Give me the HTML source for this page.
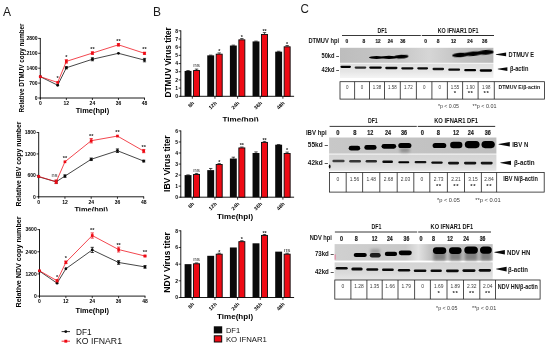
<!DOCTYPE html>
<html lang="en"><head><meta charset="utf-8"><title>Figure</title>
<style>html,body{margin:0;padding:0;background:#fff;}body{width:550px;height:348px;overflow:hidden;}svg{display:block;font-family:"Liberation Sans", sans-serif;filter:blur(0.3px);}</style>
</head><body>
<svg width="550" height="348" viewBox="0 0 550 348">
<defs>
<filter id="b1" x="-20%" y="-80%" width="140%" height="260%"><feGaussianBlur stdDeviation="0.75"/></filter>
<filter id="b4" x="-20%" y="-100%" width="140%" height="300%"><feGaussianBlur stdDeviation="0.7 0.45"/></filter>
<filter id="b2" x="-20%" y="-80%" width="140%" height="260%"><feGaussianBlur stdDeviation="0.6"/></filter>
<filter id="b3" x="-20%" y="-80%" width="140%" height="260%"><feGaussianBlur stdDeviation="1.4"/></filter>
<clipPath id="clipA2"><rect x="0" y="0" width="300" height="211.3"/></clipPath>
<clipPath id="clipB1"><rect x="0" y="0" width="300" height="121.5"/></clipPath>
<linearGradient id="gb1" x1="0" x2="1" y1="0" y2="0"><stop offset="0" stop-color="#bdbdbd"/><stop offset="0.4" stop-color="#c8c8c8"/><stop offset="0.58" stop-color="#d6d6d6"/><stop offset="0.75" stop-color="#c6c6c6"/><stop offset="1" stop-color="#b8b8b8"/></linearGradient>
<linearGradient id="ga1" x1="0" x2="0" y1="0" y2="1"><stop offset="0" stop-color="#dedede"/><stop offset="0.55" stop-color="#e6e6e6"/><stop offset="1" stop-color="#f4f4f4"/></linearGradient>
<linearGradient id="gb2" x1="0" x2="1" y1="0" y2="0"><stop offset="0" stop-color="#c8c8c8"/><stop offset="1" stop-color="#bebebe"/></linearGradient>
<linearGradient id="ga2" x1="0" x2="0" y1="0" y2="1"><stop offset="0" stop-color="#d4d4d4"/><stop offset="0.6" stop-color="#dadada"/><stop offset="1" stop-color="#e6e6e6"/></linearGradient>
<linearGradient id="gb3" x1="0" x2="1" y1="0" y2="0"><stop offset="0" stop-color="#d0d0d0"/><stop offset="0.45" stop-color="#c8c8c8"/><stop offset="0.53" stop-color="#e2e2e2"/><stop offset="0.6" stop-color="#c4c4c4"/><stop offset="1" stop-color="#bdbdbd"/></linearGradient>
</defs>
<rect width="550" height="348" fill="#fff"/>
<text x="2.90" y="15.50" font-size="12" font-weight="normal" text-anchor="start" fill="#1a1a1a" >A</text>
<text x="153.00" y="15.60" font-size="12" font-weight="normal" text-anchor="start" fill="#1a1a1a" textLength="8.00" lengthAdjust="spacingAndGlyphs" >B</text>
<text x="300.40" y="13.40" font-size="13.2" font-weight="normal" text-anchor="start" fill="#1a1a1a" textLength="8.40" lengthAdjust="spacingAndGlyphs" >C</text>
<line x1="40.30" y1="38.00" x2="40.30" y2="98.40" stroke="#000" stroke-width="0.9" />
<line x1="39.90" y1="98.00" x2="144.90" y2="98.00" stroke="#000" stroke-width="0.9" />
<line x1="38.20" y1="98.00" x2="40.30" y2="98.00" stroke="#000" stroke-width="0.8" />
<text x="37.50" y="99.75" font-size="5.0" font-weight="bold" text-anchor="end" fill="#000" >0</text>
<line x1="38.20" y1="83.10" x2="40.30" y2="83.10" stroke="#000" stroke-width="0.8" />
<text x="37.50" y="84.85" font-size="5.0" font-weight="bold" text-anchor="end" fill="#000" >700</text>
<line x1="38.20" y1="68.20" x2="40.30" y2="68.20" stroke="#000" stroke-width="0.8" />
<text x="37.50" y="69.95" font-size="5.0" font-weight="bold" text-anchor="end" fill="#000" >1400</text>
<line x1="38.20" y1="53.30" x2="40.30" y2="53.30" stroke="#000" stroke-width="0.8" />
<text x="37.50" y="55.05" font-size="5.0" font-weight="bold" text-anchor="end" fill="#000" >2100</text>
<line x1="38.20" y1="38.40" x2="40.30" y2="38.40" stroke="#000" stroke-width="0.8" />
<text x="37.50" y="40.15" font-size="5.0" font-weight="bold" text-anchor="end" fill="#000" >2800</text>
<line x1="40.30" y1="98.00" x2="40.30" y2="100.00" stroke="#000" stroke-width="0.8" />
<text x="40.30" y="104.90" font-size="5.0" font-weight="bold" text-anchor="middle" fill="#000" >0</text>
<line x1="66.35" y1="98.00" x2="66.35" y2="100.00" stroke="#000" stroke-width="0.8" />
<text x="66.35" y="104.90" font-size="5.0" font-weight="bold" text-anchor="middle" fill="#000" >12</text>
<line x1="92.40" y1="98.00" x2="92.40" y2="100.00" stroke="#000" stroke-width="0.8" />
<text x="92.40" y="104.90" font-size="5.0" font-weight="bold" text-anchor="middle" fill="#000" >24</text>
<line x1="118.45" y1="98.00" x2="118.45" y2="100.00" stroke="#000" stroke-width="0.8" />
<text x="118.45" y="104.90" font-size="5.0" font-weight="bold" text-anchor="middle" fill="#000" >36</text>
<line x1="144.50" y1="98.00" x2="144.50" y2="100.00" stroke="#000" stroke-width="0.8" />
<text x="144.50" y="104.90" font-size="5.0" font-weight="bold" text-anchor="middle" fill="#000" >48</text>
<polyline points="40.30,76.71 57.67,85.23 66.35,67.77 92.40,59.26 118.45,53.30 144.50,60.11" fill="none" stroke="#0a0a0a" stroke-width="0.75"/>
<circle cx="40.30" cy="76.71" r="1.4" fill="#0a0a0a"/>
<circle cx="57.67" cy="85.23" r="1.4" fill="#0a0a0a"/>
<line x1="66.35" y1="66.71" x2="66.35" y2="68.84" stroke="#0a0a0a" stroke-width="0.8" />
<line x1="64.75" y1="66.71" x2="67.95" y2="66.71" stroke="#0a0a0a" stroke-width="0.8" />
<line x1="64.75" y1="68.84" x2="67.95" y2="68.84" stroke="#0a0a0a" stroke-width="0.8" />
<circle cx="66.35" cy="67.77" r="1.4" fill="#0a0a0a"/>
<line x1="92.40" y1="57.77" x2="92.40" y2="60.75" stroke="#0a0a0a" stroke-width="0.8" />
<line x1="90.80" y1="57.77" x2="94.00" y2="57.77" stroke="#0a0a0a" stroke-width="0.8" />
<line x1="90.80" y1="60.75" x2="94.00" y2="60.75" stroke="#0a0a0a" stroke-width="0.8" />
<circle cx="92.40" cy="59.26" r="1.4" fill="#0a0a0a"/>
<circle cx="118.45" cy="53.30" r="1.4" fill="#0a0a0a"/>
<line x1="144.50" y1="58.41" x2="144.50" y2="61.81" stroke="#0a0a0a" stroke-width="0.8" />
<line x1="142.90" y1="58.41" x2="146.10" y2="58.41" stroke="#0a0a0a" stroke-width="0.8" />
<line x1="142.90" y1="61.81" x2="146.10" y2="61.81" stroke="#0a0a0a" stroke-width="0.8" />
<circle cx="144.50" cy="60.11" r="1.4" fill="#0a0a0a"/>
<polyline points="40.30,76.71 57.67,82.46 66.35,61.39 92.40,53.09 118.45,44.79 144.50,53.30" fill="none" stroke="#ee0a14" stroke-width="0.75"/>
<rect x="38.95" y="75.36" width="2.7" height="2.7" fill="#ee0a14"/>
<rect x="56.32" y="81.11" width="2.7" height="2.7" fill="#ee0a14"/>
<line x1="66.35" y1="59.69" x2="66.35" y2="63.09" stroke="#ee0a14" stroke-width="0.8" />
<line x1="64.75" y1="59.69" x2="67.95" y2="59.69" stroke="#ee0a14" stroke-width="0.8" />
<line x1="64.75" y1="63.09" x2="67.95" y2="63.09" stroke="#ee0a14" stroke-width="0.8" />
<rect x="65.00" y="60.04" width="2.7" height="2.7" fill="#ee0a14"/>
<line x1="92.40" y1="51.81" x2="92.40" y2="54.36" stroke="#ee0a14" stroke-width="0.8" />
<line x1="90.80" y1="51.81" x2="94.00" y2="51.81" stroke="#ee0a14" stroke-width="0.8" />
<line x1="90.80" y1="54.36" x2="94.00" y2="54.36" stroke="#ee0a14" stroke-width="0.8" />
<rect x="91.05" y="51.74" width="2.7" height="2.7" fill="#ee0a14"/>
<line x1="118.45" y1="43.51" x2="118.45" y2="46.06" stroke="#ee0a14" stroke-width="0.8" />
<line x1="116.85" y1="43.51" x2="120.05" y2="43.51" stroke="#ee0a14" stroke-width="0.8" />
<line x1="116.85" y1="46.06" x2="120.05" y2="46.06" stroke="#ee0a14" stroke-width="0.8" />
<rect x="117.10" y="43.44" width="2.7" height="2.7" fill="#ee0a14"/>
<line x1="144.50" y1="52.24" x2="144.50" y2="54.36" stroke="#ee0a14" stroke-width="0.8" />
<line x1="142.90" y1="52.24" x2="146.10" y2="52.24" stroke="#ee0a14" stroke-width="0.8" />
<line x1="142.90" y1="54.36" x2="146.10" y2="54.36" stroke="#ee0a14" stroke-width="0.8" />
<rect x="143.15" y="51.95" width="2.7" height="2.7" fill="#ee0a14"/>
<text x="57.67" y="80.46" font-size="5.6" font-weight="bold" text-anchor="middle" fill="#222" >*</text>
<text x="66.35" y="59.14" font-size="5.6" font-weight="bold" text-anchor="middle" fill="#222" >*</text>
<text x="92.40" y="51.09" font-size="5.6" font-weight="bold" text-anchor="middle" fill="#222" >**</text>
<text x="118.45" y="42.79" font-size="5.6" font-weight="bold" text-anchor="middle" fill="#222" >**</text>
<text x="144.50" y="51.30" font-size="5.6" font-weight="bold" text-anchor="middle" fill="#222" >**</text>
<text transform="translate(23.90,68.00) rotate(-90)" font-size="7.6" font-weight="bold" text-anchor="middle" textLength="89" lengthAdjust="spacingAndGlyphs">Relative DTMUV copy number</text>
<text x="92.40" y="113.00" font-size="7.6" font-weight="bold" text-anchor="middle" fill="#000" textLength="33.50" lengthAdjust="spacingAndGlyphs" >Time(hpi)</text>
<line x1="38.70" y1="132.10" x2="38.70" y2="197.20" stroke="#000" stroke-width="0.9" />
<line x1="38.30" y1="196.80" x2="144.10" y2="196.80" stroke="#000" stroke-width="0.9" />
<line x1="36.60" y1="196.80" x2="38.70" y2="196.80" stroke="#000" stroke-width="0.8" />
<text x="35.90" y="198.55" font-size="5.0" font-weight="bold" text-anchor="end" fill="#000" >0</text>
<line x1="36.60" y1="175.37" x2="38.70" y2="175.37" stroke="#000" stroke-width="0.8" />
<text x="35.90" y="177.12" font-size="5.0" font-weight="bold" text-anchor="end" fill="#000" >600</text>
<line x1="36.60" y1="153.93" x2="38.70" y2="153.93" stroke="#000" stroke-width="0.8" />
<text x="35.90" y="155.68" font-size="5.0" font-weight="bold" text-anchor="end" fill="#000" >1200</text>
<line x1="36.60" y1="132.50" x2="38.70" y2="132.50" stroke="#000" stroke-width="0.8" />
<text x="35.90" y="134.25" font-size="5.0" font-weight="bold" text-anchor="end" fill="#000" >1800</text>
<line x1="38.70" y1="196.80" x2="38.70" y2="198.80" stroke="#000" stroke-width="0.8" />
<text x="38.70" y="203.70" font-size="5.0" font-weight="bold" text-anchor="middle" fill="#000" >0</text>
<line x1="64.95" y1="196.80" x2="64.95" y2="198.80" stroke="#000" stroke-width="0.8" />
<text x="64.95" y="203.70" font-size="5.0" font-weight="bold" text-anchor="middle" fill="#000" >12</text>
<line x1="91.20" y1="196.80" x2="91.20" y2="198.80" stroke="#000" stroke-width="0.8" />
<text x="91.20" y="203.70" font-size="5.0" font-weight="bold" text-anchor="middle" fill="#000" >24</text>
<line x1="117.45" y1="196.80" x2="117.45" y2="198.80" stroke="#000" stroke-width="0.8" />
<text x="117.45" y="203.70" font-size="5.0" font-weight="bold" text-anchor="middle" fill="#000" >36</text>
<line x1="143.70" y1="196.80" x2="143.70" y2="198.80" stroke="#000" stroke-width="0.8" />
<text x="143.70" y="203.70" font-size="5.0" font-weight="bold" text-anchor="middle" fill="#000" >48</text>
<polyline points="38.70,176.80 56.20,181.80 64.95,176.08 91.20,159.29 117.45,150.72 143.70,161.08" fill="none" stroke="#0a0a0a" stroke-width="0.75"/>
<circle cx="38.70" cy="176.80" r="1.4" fill="#0a0a0a"/>
<line x1="56.20" y1="180.37" x2="56.20" y2="183.23" stroke="#0a0a0a" stroke-width="0.8" />
<line x1="54.60" y1="180.37" x2="57.80" y2="180.37" stroke="#0a0a0a" stroke-width="0.8" />
<line x1="54.60" y1="183.23" x2="57.80" y2="183.23" stroke="#0a0a0a" stroke-width="0.8" />
<circle cx="56.20" cy="181.80" r="1.4" fill="#0a0a0a"/>
<line x1="64.95" y1="174.83" x2="64.95" y2="177.33" stroke="#0a0a0a" stroke-width="0.8" />
<line x1="63.35" y1="174.83" x2="66.55" y2="174.83" stroke="#0a0a0a" stroke-width="0.8" />
<line x1="63.35" y1="177.33" x2="66.55" y2="177.33" stroke="#0a0a0a" stroke-width="0.8" />
<circle cx="64.95" cy="176.08" r="1.4" fill="#0a0a0a"/>
<line x1="91.20" y1="158.04" x2="91.20" y2="160.54" stroke="#0a0a0a" stroke-width="0.8" />
<line x1="89.60" y1="158.04" x2="92.80" y2="158.04" stroke="#0a0a0a" stroke-width="0.8" />
<line x1="89.60" y1="160.54" x2="92.80" y2="160.54" stroke="#0a0a0a" stroke-width="0.8" />
<circle cx="91.20" cy="159.29" r="1.4" fill="#0a0a0a"/>
<line x1="117.45" y1="148.93" x2="117.45" y2="152.50" stroke="#0a0a0a" stroke-width="0.8" />
<line x1="115.85" y1="148.93" x2="119.05" y2="148.93" stroke="#0a0a0a" stroke-width="0.8" />
<line x1="115.85" y1="152.50" x2="119.05" y2="152.50" stroke="#0a0a0a" stroke-width="0.8" />
<circle cx="117.45" cy="150.72" r="1.4" fill="#0a0a0a"/>
<line x1="143.70" y1="160.18" x2="143.70" y2="161.97" stroke="#0a0a0a" stroke-width="0.8" />
<line x1="142.10" y1="160.18" x2="145.30" y2="160.18" stroke="#0a0a0a" stroke-width="0.8" />
<line x1="142.10" y1="161.97" x2="145.30" y2="161.97" stroke="#0a0a0a" stroke-width="0.8" />
<circle cx="143.70" cy="161.08" r="1.4" fill="#0a0a0a"/>
<polyline points="38.70,176.44 56.20,181.80 64.95,161.79 91.20,140.72 117.45,136.07 143.70,151.08" fill="none" stroke="#ee0a14" stroke-width="0.75"/>
<rect x="37.35" y="175.09" width="2.7" height="2.7" fill="#ee0a14"/>
<line x1="56.20" y1="180.01" x2="56.20" y2="183.58" stroke="#ee0a14" stroke-width="0.8" />
<line x1="54.60" y1="180.01" x2="57.80" y2="180.01" stroke="#ee0a14" stroke-width="0.8" />
<line x1="54.60" y1="183.58" x2="57.80" y2="183.58" stroke="#ee0a14" stroke-width="0.8" />
<rect x="54.85" y="180.45" width="2.7" height="2.7" fill="#ee0a14"/>
<rect x="63.60" y="160.44" width="2.7" height="2.7" fill="#ee0a14"/>
<line x1="91.20" y1="138.57" x2="91.20" y2="142.86" stroke="#ee0a14" stroke-width="0.8" />
<line x1="89.60" y1="138.57" x2="92.80" y2="138.57" stroke="#ee0a14" stroke-width="0.8" />
<line x1="89.60" y1="142.86" x2="92.80" y2="142.86" stroke="#ee0a14" stroke-width="0.8" />
<rect x="89.85" y="139.37" width="2.7" height="2.7" fill="#ee0a14"/>
<rect x="116.10" y="134.72" width="2.7" height="2.7" fill="#ee0a14"/>
<line x1="143.70" y1="149.47" x2="143.70" y2="152.68" stroke="#ee0a14" stroke-width="0.8" />
<line x1="142.10" y1="149.47" x2="145.30" y2="149.47" stroke="#ee0a14" stroke-width="0.8" />
<line x1="142.10" y1="152.68" x2="145.30" y2="152.68" stroke="#ee0a14" stroke-width="0.8" />
<rect x="142.35" y="149.73" width="2.7" height="2.7" fill="#ee0a14"/>
<text x="54.50" y="177.06" font-size="5.6" font-weight="normal" text-anchor="middle" fill="#2a2a2a" >ns</text>
<text x="64.95" y="159.79" font-size="5.6" font-weight="bold" text-anchor="middle" fill="#222" >**</text>
<text x="91.20" y="138.02" font-size="5.6" font-weight="bold" text-anchor="middle" fill="#222" >**</text>
<text x="117.45" y="134.07" font-size="5.6" font-weight="bold" text-anchor="middle" fill="#222" >**</text>
<text x="143.70" y="148.92" font-size="5.6" font-weight="bold" text-anchor="middle" fill="#222" >**</text>
<text transform="translate(21.20,164.00) rotate(-90)" font-size="7.6" font-weight="bold" text-anchor="middle" textLength="85" lengthAdjust="spacingAndGlyphs">Relative IBV copy number</text>
<g clip-path="url(#clipA2)">
<text x="91.20" y="211.90" font-size="7.6" font-weight="bold" text-anchor="middle" fill="#000" textLength="33.50" lengthAdjust="spacingAndGlyphs" >Time(hpi)</text>
</g>
<line x1="39.50" y1="229.20" x2="39.50" y2="296.50" stroke="#000" stroke-width="0.9" />
<line x1="39.10" y1="296.10" x2="145.40" y2="296.10" stroke="#000" stroke-width="0.9" />
<line x1="37.40" y1="296.10" x2="39.50" y2="296.10" stroke="#000" stroke-width="0.8" />
<text x="36.70" y="297.85" font-size="5.0" font-weight="bold" text-anchor="end" fill="#000" >0</text>
<line x1="37.40" y1="273.93" x2="39.50" y2="273.93" stroke="#000" stroke-width="0.8" />
<text x="36.70" y="275.68" font-size="5.0" font-weight="bold" text-anchor="end" fill="#000" >1200</text>
<line x1="37.40" y1="251.77" x2="39.50" y2="251.77" stroke="#000" stroke-width="0.8" />
<text x="36.70" y="253.52" font-size="5.0" font-weight="bold" text-anchor="end" fill="#000" >2400</text>
<line x1="37.40" y1="229.60" x2="39.50" y2="229.60" stroke="#000" stroke-width="0.8" />
<text x="36.70" y="231.35" font-size="5.0" font-weight="bold" text-anchor="end" fill="#000" >3600</text>
<line x1="39.50" y1="296.10" x2="39.50" y2="298.10" stroke="#000" stroke-width="0.8" />
<text x="39.50" y="303.00" font-size="5.0" font-weight="bold" text-anchor="middle" fill="#000" >0</text>
<line x1="65.88" y1="296.10" x2="65.88" y2="298.10" stroke="#000" stroke-width="0.8" />
<text x="65.88" y="303.00" font-size="5.0" font-weight="bold" text-anchor="middle" fill="#000" >12</text>
<line x1="92.25" y1="296.10" x2="92.25" y2="298.10" stroke="#000" stroke-width="0.8" />
<text x="92.25" y="303.00" font-size="5.0" font-weight="bold" text-anchor="middle" fill="#000" >24</text>
<line x1="118.62" y1="296.10" x2="118.62" y2="298.10" stroke="#000" stroke-width="0.8" />
<text x="118.62" y="303.00" font-size="5.0" font-weight="bold" text-anchor="middle" fill="#000" >36</text>
<line x1="145.00" y1="296.10" x2="145.00" y2="298.10" stroke="#000" stroke-width="0.8" />
<text x="145.00" y="303.00" font-size="5.0" font-weight="bold" text-anchor="middle" fill="#000" >48</text>
<polyline points="39.50,271.16 57.08,283.17 65.88,268.76 92.25,249.92 118.62,262.48 145.00,266.91" fill="none" stroke="#0a0a0a" stroke-width="0.75"/>
<circle cx="39.50" cy="271.16" r="1.4" fill="#0a0a0a"/>
<circle cx="57.08" cy="283.17" r="1.4" fill="#0a0a0a"/>
<circle cx="65.88" cy="268.76" r="1.4" fill="#0a0a0a"/>
<line x1="92.25" y1="247.33" x2="92.25" y2="252.51" stroke="#0a0a0a" stroke-width="0.8" />
<line x1="90.65" y1="247.33" x2="93.85" y2="247.33" stroke="#0a0a0a" stroke-width="0.8" />
<line x1="90.65" y1="252.51" x2="93.85" y2="252.51" stroke="#0a0a0a" stroke-width="0.8" />
<circle cx="92.25" cy="249.92" r="1.4" fill="#0a0a0a"/>
<line x1="118.62" y1="260.63" x2="118.62" y2="264.33" stroke="#0a0a0a" stroke-width="0.8" />
<line x1="117.03" y1="260.63" x2="120.22" y2="260.63" stroke="#0a0a0a" stroke-width="0.8" />
<line x1="117.03" y1="264.33" x2="120.22" y2="264.33" stroke="#0a0a0a" stroke-width="0.8" />
<circle cx="118.62" cy="262.48" r="1.4" fill="#0a0a0a"/>
<line x1="145.00" y1="265.62" x2="145.00" y2="268.21" stroke="#0a0a0a" stroke-width="0.8" />
<line x1="143.40" y1="265.62" x2="146.60" y2="265.62" stroke="#0a0a0a" stroke-width="0.8" />
<line x1="143.40" y1="268.21" x2="146.60" y2="268.21" stroke="#0a0a0a" stroke-width="0.8" />
<circle cx="145.00" cy="266.91" r="1.4" fill="#0a0a0a"/>
<polyline points="39.50,270.79 57.08,280.77 65.88,262.30 92.25,235.51 118.62,249.55 145.00,256.02" fill="none" stroke="#ee0a14" stroke-width="0.75"/>
<rect x="38.15" y="269.44" width="2.7" height="2.7" fill="#ee0a14"/>
<line x1="57.08" y1="279.66" x2="57.08" y2="281.88" stroke="#ee0a14" stroke-width="0.8" />
<line x1="55.48" y1="279.66" x2="58.68" y2="279.66" stroke="#ee0a14" stroke-width="0.8" />
<line x1="55.48" y1="281.88" x2="58.68" y2="281.88" stroke="#ee0a14" stroke-width="0.8" />
<rect x="55.73" y="279.42" width="2.7" height="2.7" fill="#ee0a14"/>
<line x1="65.88" y1="261.00" x2="65.88" y2="263.59" stroke="#ee0a14" stroke-width="0.8" />
<line x1="64.28" y1="261.00" x2="67.47" y2="261.00" stroke="#ee0a14" stroke-width="0.8" />
<line x1="64.28" y1="263.59" x2="67.47" y2="263.59" stroke="#ee0a14" stroke-width="0.8" />
<rect x="64.53" y="260.95" width="2.7" height="2.7" fill="#ee0a14"/>
<line x1="92.25" y1="232.93" x2="92.25" y2="238.10" stroke="#ee0a14" stroke-width="0.8" />
<line x1="90.65" y1="232.93" x2="93.85" y2="232.93" stroke="#ee0a14" stroke-width="0.8" />
<line x1="90.65" y1="238.10" x2="93.85" y2="238.10" stroke="#ee0a14" stroke-width="0.8" />
<rect x="90.90" y="234.16" width="2.7" height="2.7" fill="#ee0a14"/>
<line x1="118.62" y1="247.15" x2="118.62" y2="251.95" stroke="#ee0a14" stroke-width="0.8" />
<line x1="117.03" y1="247.15" x2="120.22" y2="247.15" stroke="#ee0a14" stroke-width="0.8" />
<line x1="117.03" y1="251.95" x2="120.22" y2="251.95" stroke="#ee0a14" stroke-width="0.8" />
<rect x="117.28" y="248.20" width="2.7" height="2.7" fill="#ee0a14"/>
<line x1="145.00" y1="255.28" x2="145.00" y2="256.75" stroke="#ee0a14" stroke-width="0.8" />
<line x1="143.40" y1="255.28" x2="146.60" y2="255.28" stroke="#ee0a14" stroke-width="0.8" />
<line x1="143.40" y1="256.75" x2="146.60" y2="256.75" stroke="#ee0a14" stroke-width="0.8" />
<rect x="143.65" y="254.67" width="2.7" height="2.7" fill="#ee0a14"/>
<text x="57.08" y="278.77" font-size="5.6" font-weight="bold" text-anchor="middle" fill="#222" >*</text>
<text x="65.88" y="260.30" font-size="5.6" font-weight="bold" text-anchor="middle" fill="#222" >*</text>
<text x="92.25" y="232.38" font-size="5.6" font-weight="bold" text-anchor="middle" fill="#222" >**</text>
<text x="118.62" y="246.60" font-size="5.6" font-weight="bold" text-anchor="middle" fill="#222" >**</text>
<text x="145.00" y="254.02" font-size="5.6" font-weight="bold" text-anchor="middle" fill="#222" >**</text>
<text transform="translate(21.20,262.00) rotate(-90)" font-size="7.6" font-weight="bold" text-anchor="middle" textLength="91" lengthAdjust="spacingAndGlyphs">Relative NDV copy number</text>
<text x="92.25" y="312.60" font-size="7.6" font-weight="bold" text-anchor="middle" fill="#000" textLength="33.50" lengthAdjust="spacingAndGlyphs" >Time(hpi)</text>
<line x1="61.60" y1="331.60" x2="70.00" y2="331.60" stroke="#0a0a0a" stroke-width="0.85" />
<circle cx="65.8" cy="331.6" r="1.45" fill="#0a0a0a"/>
<text x="76.00" y="334.70" font-size="8.6" font-weight="normal" text-anchor="start" fill="#111" textLength="15.60" lengthAdjust="spacingAndGlyphs" >DF1</text>
<line x1="61.60" y1="341.20" x2="70.00" y2="341.20" stroke="#ee0a14" stroke-width="0.85" />
<rect x="64.35" y="339.75" width="2.9" height="2.9" fill="#ee0a14"/>
<text x="76.00" y="344.30" font-size="8.6" font-weight="normal" text-anchor="start" fill="#111" textLength="46.00" lengthAdjust="spacingAndGlyphs" >KO IFNAR1</text>
<line x1="180.80" y1="30.40" x2="180.80" y2="96.70" stroke="#000" stroke-width="0.9" />
<line x1="180.40" y1="96.30" x2="294.10" y2="96.30" stroke="#000" stroke-width="0.9" />
<line x1="178.70" y1="96.30" x2="180.80" y2="96.30" stroke="#000" stroke-width="0.8" />
<text x="178.00" y="98.05" font-size="5.0" font-weight="bold" text-anchor="end" fill="#000" >0</text>
<line x1="178.70" y1="88.11" x2="180.80" y2="88.11" stroke="#000" stroke-width="0.8" />
<text x="178.00" y="89.86" font-size="5.0" font-weight="bold" text-anchor="end" fill="#000" >1</text>
<line x1="178.70" y1="79.92" x2="180.80" y2="79.92" stroke="#000" stroke-width="0.8" />
<text x="178.00" y="81.67" font-size="5.0" font-weight="bold" text-anchor="end" fill="#000" >2</text>
<line x1="178.70" y1="71.74" x2="180.80" y2="71.74" stroke="#000" stroke-width="0.8" />
<text x="178.00" y="73.49" font-size="5.0" font-weight="bold" text-anchor="end" fill="#000" >3</text>
<line x1="178.70" y1="63.55" x2="180.80" y2="63.55" stroke="#000" stroke-width="0.8" />
<text x="178.00" y="65.30" font-size="5.0" font-weight="bold" text-anchor="end" fill="#000" >4</text>
<line x1="178.70" y1="55.36" x2="180.80" y2="55.36" stroke="#000" stroke-width="0.8" />
<text x="178.00" y="57.11" font-size="5.0" font-weight="bold" text-anchor="end" fill="#000" >5</text>
<line x1="178.70" y1="47.17" x2="180.80" y2="47.17" stroke="#000" stroke-width="0.8" />
<text x="178.00" y="48.92" font-size="5.0" font-weight="bold" text-anchor="end" fill="#000" >6</text>
<line x1="178.70" y1="38.99" x2="180.80" y2="38.99" stroke="#000" stroke-width="0.8" />
<text x="178.00" y="40.74" font-size="5.0" font-weight="bold" text-anchor="end" fill="#000" >7</text>
<line x1="178.70" y1="30.80" x2="180.80" y2="30.80" stroke="#000" stroke-width="0.8" />
<text x="178.00" y="32.55" font-size="5.0" font-weight="bold" text-anchor="end" fill="#000" >8</text>
<line x1="188.05" y1="70.51" x2="188.05" y2="70.92" stroke="#0a0a0a" stroke-width="0.7" />
<line x1="186.35" y1="70.51" x2="189.75" y2="70.51" stroke="#0a0a0a" stroke-width="0.7" />
<line x1="196.55" y1="69.12" x2="196.55" y2="70.10" stroke="#0a0a0a" stroke-width="0.7" />
<line x1="194.85" y1="69.12" x2="198.25" y2="69.12" stroke="#0a0a0a" stroke-width="0.7" />
<rect x="184.60" y="70.92" width="6.9" height="25.38" fill="#0a0a0a"/>
<rect x="193.55" y="70.55" width="6.0" height="25.75" fill="#ee0a14" stroke="#0a0a0a" stroke-width="0.9"/>
<line x1="192.30" y1="96.30" x2="192.30" y2="98.70" stroke="#000" stroke-width="0.8" />
<text transform="translate(194.50,103.40) rotate(-45)" font-size="5.2" font-weight="bold" text-anchor="end">8h</text>
<text x="196.55" y="67.42" font-size="6.2" font-weight="normal" text-anchor="middle" fill="#2a2a2a" >ns</text>
<line x1="210.70" y1="55.12" x2="210.70" y2="55.36" stroke="#0a0a0a" stroke-width="0.7" />
<line x1="209.00" y1="55.12" x2="212.40" y2="55.12" stroke="#0a0a0a" stroke-width="0.7" />
<line x1="219.20" y1="52.91" x2="219.20" y2="53.72" stroke="#0a0a0a" stroke-width="0.7" />
<line x1="217.50" y1="52.91" x2="220.90" y2="52.91" stroke="#0a0a0a" stroke-width="0.7" />
<rect x="207.25" y="55.36" width="6.9" height="40.94" fill="#0a0a0a"/>
<rect x="216.20" y="54.17" width="6.0" height="42.12" fill="#ee0a14" stroke="#0a0a0a" stroke-width="0.9"/>
<line x1="214.95" y1="96.30" x2="214.95" y2="98.70" stroke="#000" stroke-width="0.8" />
<text transform="translate(217.15,103.40) rotate(-45)" font-size="5.2" font-weight="bold" text-anchor="end">12h</text>
<text x="219.20" y="53.21" font-size="5.4" font-weight="bold" text-anchor="middle" fill="#222" >*</text>
<line x1="233.35" y1="45.13" x2="233.35" y2="45.54" stroke="#0a0a0a" stroke-width="0.7" />
<line x1="231.65" y1="45.13" x2="235.05" y2="45.13" stroke="#0a0a0a" stroke-width="0.7" />
<line x1="241.85" y1="38.58" x2="241.85" y2="39.40" stroke="#0a0a0a" stroke-width="0.7" />
<line x1="240.15" y1="38.58" x2="243.55" y2="38.58" stroke="#0a0a0a" stroke-width="0.7" />
<rect x="229.90" y="45.54" width="6.9" height="50.76" fill="#0a0a0a"/>
<rect x="238.85" y="39.85" width="6.0" height="56.45" fill="#ee0a14" stroke="#0a0a0a" stroke-width="0.9"/>
<line x1="237.60" y1="96.30" x2="237.60" y2="98.70" stroke="#000" stroke-width="0.8" />
<text transform="translate(239.80,103.40) rotate(-45)" font-size="5.2" font-weight="bold" text-anchor="end">24h</text>
<text x="241.85" y="38.88" font-size="5.4" font-weight="bold" text-anchor="middle" fill="#222" >*</text>
<line x1="256.00" y1="41.12" x2="256.00" y2="41.44" stroke="#0a0a0a" stroke-width="0.7" />
<line x1="254.30" y1="41.12" x2="257.70" y2="41.12" stroke="#0a0a0a" stroke-width="0.7" />
<line x1="264.50" y1="32.60" x2="264.50" y2="34.08" stroke="#0a0a0a" stroke-width="0.7" />
<line x1="262.80" y1="32.60" x2="266.20" y2="32.60" stroke="#0a0a0a" stroke-width="0.7" />
<rect x="252.55" y="41.44" width="6.9" height="54.86" fill="#0a0a0a"/>
<rect x="261.50" y="34.53" width="6.0" height="61.77" fill="#ee0a14" stroke="#0a0a0a" stroke-width="0.9"/>
<line x1="260.25" y1="96.30" x2="260.25" y2="98.70" stroke="#000" stroke-width="0.8" />
<text transform="translate(262.45,103.40) rotate(-45)" font-size="5.2" font-weight="bold" text-anchor="end">36h</text>
<text x="264.50" y="32.90" font-size="5.4" font-weight="bold" text-anchor="middle" fill="#222" >**</text>
<line x1="278.65" y1="51.27" x2="278.65" y2="51.68" stroke="#0a0a0a" stroke-width="0.7" />
<line x1="276.95" y1="51.27" x2="280.35" y2="51.27" stroke="#0a0a0a" stroke-width="0.7" />
<line x1="287.15" y1="45.54" x2="287.15" y2="46.36" stroke="#0a0a0a" stroke-width="0.7" />
<line x1="285.45" y1="45.54" x2="288.85" y2="45.54" stroke="#0a0a0a" stroke-width="0.7" />
<rect x="275.20" y="51.68" width="6.9" height="44.62" fill="#0a0a0a"/>
<rect x="284.15" y="46.81" width="6.0" height="49.49" fill="#ee0a14" stroke="#0a0a0a" stroke-width="0.9"/>
<line x1="282.90" y1="96.30" x2="282.90" y2="98.70" stroke="#000" stroke-width="0.8" />
<text transform="translate(285.10,103.40) rotate(-45)" font-size="5.2" font-weight="bold" text-anchor="end">48h</text>
<text x="287.15" y="45.84" font-size="5.4" font-weight="bold" text-anchor="middle" fill="#222" >*</text>
<text transform="translate(170.90,62.40) rotate(-90)" font-size="8.4" font-weight="bold" text-anchor="middle" textLength="70.4" lengthAdjust="spacingAndGlyphs">DTMUV Virus titer</text>
<g clip-path="url(#clipB1)">
<text x="240.60" y="122.00" font-size="8" font-weight="bold" text-anchor="middle" fill="#000" textLength="36.00" lengthAdjust="spacingAndGlyphs" >Time(hpi)</text>
</g>
<line x1="180.80" y1="130.50" x2="180.80" y2="197.60" stroke="#000" stroke-width="0.9" />
<line x1="180.40" y1="197.20" x2="294.10" y2="197.20" stroke="#000" stroke-width="0.9" />
<line x1="178.70" y1="197.20" x2="180.80" y2="197.20" stroke="#000" stroke-width="0.8" />
<text x="178.00" y="198.95" font-size="5.0" font-weight="bold" text-anchor="end" fill="#000" >0</text>
<line x1="178.70" y1="186.15" x2="180.80" y2="186.15" stroke="#000" stroke-width="0.8" />
<text x="178.00" y="187.90" font-size="5.0" font-weight="bold" text-anchor="end" fill="#000" >1</text>
<line x1="178.70" y1="175.10" x2="180.80" y2="175.10" stroke="#000" stroke-width="0.8" />
<text x="178.00" y="176.85" font-size="5.0" font-weight="bold" text-anchor="end" fill="#000" >2</text>
<line x1="178.70" y1="164.05" x2="180.80" y2="164.05" stroke="#000" stroke-width="0.8" />
<text x="178.00" y="165.80" font-size="5.0" font-weight="bold" text-anchor="end" fill="#000" >3</text>
<line x1="178.70" y1="153.00" x2="180.80" y2="153.00" stroke="#000" stroke-width="0.8" />
<text x="178.00" y="154.75" font-size="5.0" font-weight="bold" text-anchor="end" fill="#000" >4</text>
<line x1="178.70" y1="141.95" x2="180.80" y2="141.95" stroke="#000" stroke-width="0.8" />
<text x="178.00" y="143.70" font-size="5.0" font-weight="bold" text-anchor="end" fill="#000" >5</text>
<line x1="178.70" y1="130.90" x2="180.80" y2="130.90" stroke="#000" stroke-width="0.8" />
<text x="178.00" y="132.65" font-size="5.0" font-weight="bold" text-anchor="end" fill="#000" >6</text>
<line x1="188.05" y1="174.88" x2="188.05" y2="175.10" stroke="#0a0a0a" stroke-width="0.7" />
<line x1="186.35" y1="174.88" x2="189.75" y2="174.88" stroke="#0a0a0a" stroke-width="0.7" />
<line x1="196.55" y1="173.44" x2="196.55" y2="174.00" stroke="#0a0a0a" stroke-width="0.7" />
<line x1="194.85" y1="173.44" x2="198.25" y2="173.44" stroke="#0a0a0a" stroke-width="0.7" />
<rect x="184.60" y="175.10" width="6.9" height="22.10" fill="#0a0a0a"/>
<rect x="193.55" y="174.44" width="6.0" height="22.75" fill="#ee0a14" stroke="#0a0a0a" stroke-width="0.9"/>
<line x1="192.30" y1="197.20" x2="192.30" y2="199.60" stroke="#000" stroke-width="0.8" />
<text transform="translate(194.50,204.30) rotate(-45)" font-size="5.2" font-weight="bold" text-anchor="end">8h</text>
<text x="196.55" y="171.74" font-size="6.2" font-weight="normal" text-anchor="middle" fill="#2a2a2a" >ns</text>
<line x1="210.70" y1="168.47" x2="210.70" y2="170.13" stroke="#0a0a0a" stroke-width="0.7" />
<line x1="209.00" y1="168.47" x2="212.40" y2="168.47" stroke="#0a0a0a" stroke-width="0.7" />
<line x1="219.20" y1="163.61" x2="219.20" y2="164.05" stroke="#0a0a0a" stroke-width="0.7" />
<line x1="217.50" y1="163.61" x2="220.90" y2="163.61" stroke="#0a0a0a" stroke-width="0.7" />
<rect x="207.25" y="170.13" width="6.9" height="27.07" fill="#0a0a0a"/>
<rect x="216.20" y="164.50" width="6.0" height="32.70" fill="#ee0a14" stroke="#0a0a0a" stroke-width="0.9"/>
<line x1="214.95" y1="197.20" x2="214.95" y2="199.60" stroke="#000" stroke-width="0.8" />
<text transform="translate(217.15,204.30) rotate(-45)" font-size="5.2" font-weight="bold" text-anchor="end">12h</text>
<text x="219.20" y="163.91" font-size="5.4" font-weight="bold" text-anchor="middle" fill="#222" >*</text>
<line x1="233.35" y1="157.20" x2="233.35" y2="158.53" stroke="#0a0a0a" stroke-width="0.7" />
<line x1="231.65" y1="157.20" x2="235.05" y2="157.20" stroke="#0a0a0a" stroke-width="0.7" />
<line x1="241.85" y1="147.03" x2="241.85" y2="147.47" stroke="#0a0a0a" stroke-width="0.7" />
<line x1="240.15" y1="147.03" x2="243.55" y2="147.03" stroke="#0a0a0a" stroke-width="0.7" />
<rect x="229.90" y="158.53" width="6.9" height="38.67" fill="#0a0a0a"/>
<rect x="238.85" y="147.92" width="6.0" height="49.27" fill="#ee0a14" stroke="#0a0a0a" stroke-width="0.9"/>
<line x1="237.60" y1="197.20" x2="237.60" y2="199.60" stroke="#000" stroke-width="0.8" />
<text transform="translate(239.80,204.30) rotate(-45)" font-size="5.2" font-weight="bold" text-anchor="end">24h</text>
<text x="241.85" y="147.33" font-size="5.4" font-weight="bold" text-anchor="middle" fill="#222" >**</text>
<line x1="256.00" y1="151.90" x2="256.00" y2="153.00" stroke="#0a0a0a" stroke-width="0.7" />
<line x1="254.30" y1="151.90" x2="257.70" y2="151.90" stroke="#0a0a0a" stroke-width="0.7" />
<line x1="264.50" y1="141.40" x2="264.50" y2="141.95" stroke="#0a0a0a" stroke-width="0.7" />
<line x1="262.80" y1="141.40" x2="266.20" y2="141.40" stroke="#0a0a0a" stroke-width="0.7" />
<rect x="252.55" y="153.00" width="6.9" height="44.20" fill="#0a0a0a"/>
<rect x="261.50" y="142.40" width="6.0" height="54.80" fill="#ee0a14" stroke="#0a0a0a" stroke-width="0.9"/>
<line x1="260.25" y1="197.20" x2="260.25" y2="199.60" stroke="#000" stroke-width="0.8" />
<text transform="translate(262.45,204.30) rotate(-45)" font-size="5.2" font-weight="bold" text-anchor="end">36h</text>
<text x="264.50" y="141.70" font-size="5.4" font-weight="bold" text-anchor="middle" fill="#222" >**</text>
<line x1="278.65" y1="144.49" x2="278.65" y2="144.71" stroke="#0a0a0a" stroke-width="0.7" />
<line x1="276.95" y1="144.49" x2="280.35" y2="144.49" stroke="#0a0a0a" stroke-width="0.7" />
<line x1="287.15" y1="152.12" x2="287.15" y2="153.00" stroke="#0a0a0a" stroke-width="0.7" />
<line x1="285.45" y1="152.12" x2="288.85" y2="152.12" stroke="#0a0a0a" stroke-width="0.7" />
<rect x="275.20" y="144.71" width="6.9" height="52.49" fill="#0a0a0a"/>
<rect x="284.15" y="153.45" width="6.0" height="43.75" fill="#ee0a14" stroke="#0a0a0a" stroke-width="0.9"/>
<line x1="282.90" y1="197.20" x2="282.90" y2="199.60" stroke="#000" stroke-width="0.8" />
<text transform="translate(285.10,204.30) rotate(-45)" font-size="5.2" font-weight="bold" text-anchor="end">48h</text>
<text x="287.15" y="152.42" font-size="5.4" font-weight="bold" text-anchor="middle" fill="#222" >*</text>
<text transform="translate(170.00,163.70) rotate(-90)" font-size="8.4" font-weight="bold" text-anchor="middle" textLength="56.6" lengthAdjust="spacingAndGlyphs">IBV Virus titer</text>
<text x="235.10" y="219.20" font-size="8" font-weight="bold" text-anchor="middle" fill="#000" textLength="36.00" lengthAdjust="spacingAndGlyphs" >Time(hpi)</text>
<line x1="180.80" y1="230.40" x2="180.80" y2="297.90" stroke="#000" stroke-width="0.9" />
<line x1="180.40" y1="297.50" x2="294.10" y2="297.50" stroke="#000" stroke-width="0.9" />
<line x1="178.70" y1="297.50" x2="180.80" y2="297.50" stroke="#000" stroke-width="0.8" />
<text x="178.00" y="299.25" font-size="5.0" font-weight="bold" text-anchor="end" fill="#000" >0</text>
<line x1="178.70" y1="280.82" x2="180.80" y2="280.82" stroke="#000" stroke-width="0.8" />
<text x="178.00" y="282.57" font-size="5.0" font-weight="bold" text-anchor="end" fill="#000" >2</text>
<line x1="178.70" y1="264.15" x2="180.80" y2="264.15" stroke="#000" stroke-width="0.8" />
<text x="178.00" y="265.90" font-size="5.0" font-weight="bold" text-anchor="end" fill="#000" >4</text>
<line x1="178.70" y1="247.48" x2="180.80" y2="247.48" stroke="#000" stroke-width="0.8" />
<text x="178.00" y="249.23" font-size="5.0" font-weight="bold" text-anchor="end" fill="#000" >6</text>
<line x1="178.70" y1="230.80" x2="180.80" y2="230.80" stroke="#000" stroke-width="0.8" />
<text x="178.00" y="232.55" font-size="5.0" font-weight="bold" text-anchor="end" fill="#000" >8</text>
<line x1="196.55" y1="262.90" x2="196.55" y2="263.32" stroke="#0a0a0a" stroke-width="0.7" />
<line x1="194.85" y1="262.90" x2="198.25" y2="262.90" stroke="#0a0a0a" stroke-width="0.7" />
<rect x="184.60" y="264.15" width="6.9" height="33.35" fill="#0a0a0a"/>
<rect x="193.55" y="263.77" width="6.0" height="33.73" fill="#ee0a14" stroke="#0a0a0a" stroke-width="0.9"/>
<line x1="192.30" y1="297.50" x2="192.30" y2="299.90" stroke="#000" stroke-width="0.8" />
<text transform="translate(194.50,304.60) rotate(-45)" font-size="5.2" font-weight="bold" text-anchor="end">8h</text>
<text x="196.55" y="261.20" font-size="6.2" font-weight="normal" text-anchor="middle" fill="#2a2a2a" >ns</text>
<line x1="219.20" y1="253.23" x2="219.20" y2="253.73" stroke="#0a0a0a" stroke-width="0.7" />
<line x1="217.50" y1="253.23" x2="220.90" y2="253.23" stroke="#0a0a0a" stroke-width="0.7" />
<rect x="207.25" y="255.81" width="6.9" height="41.69" fill="#0a0a0a"/>
<rect x="216.20" y="254.18" width="6.0" height="43.32" fill="#ee0a14" stroke="#0a0a0a" stroke-width="0.9"/>
<line x1="214.95" y1="297.50" x2="214.95" y2="299.90" stroke="#000" stroke-width="0.8" />
<text transform="translate(217.15,304.60) rotate(-45)" font-size="5.2" font-weight="bold" text-anchor="end">12h</text>
<text x="219.20" y="253.53" font-size="5.4" font-weight="bold" text-anchor="middle" fill="#222" >*</text>
<line x1="241.85" y1="240.72" x2="241.85" y2="241.22" stroke="#0a0a0a" stroke-width="0.7" />
<line x1="240.15" y1="240.72" x2="243.55" y2="240.72" stroke="#0a0a0a" stroke-width="0.7" />
<rect x="229.90" y="247.48" width="6.9" height="50.02" fill="#0a0a0a"/>
<rect x="238.85" y="241.67" width="6.0" height="55.83" fill="#ee0a14" stroke="#0a0a0a" stroke-width="0.9"/>
<line x1="237.60" y1="297.50" x2="237.60" y2="299.90" stroke="#000" stroke-width="0.8" />
<text transform="translate(239.80,304.60) rotate(-45)" font-size="5.2" font-weight="bold" text-anchor="end">24h</text>
<text x="241.85" y="241.02" font-size="5.4" font-weight="bold" text-anchor="middle" fill="#222" >*</text>
<line x1="264.50" y1="234.47" x2="264.50" y2="234.97" stroke="#0a0a0a" stroke-width="0.7" />
<line x1="262.80" y1="234.47" x2="266.20" y2="234.47" stroke="#0a0a0a" stroke-width="0.7" />
<rect x="252.55" y="243.31" width="6.9" height="54.19" fill="#0a0a0a"/>
<rect x="261.50" y="235.42" width="6.0" height="62.08" fill="#ee0a14" stroke="#0a0a0a" stroke-width="0.9"/>
<line x1="260.25" y1="297.50" x2="260.25" y2="299.90" stroke="#000" stroke-width="0.8" />
<text transform="translate(262.45,304.60) rotate(-45)" font-size="5.2" font-weight="bold" text-anchor="end">36h</text>
<text x="264.50" y="234.77" font-size="5.4" font-weight="bold" text-anchor="middle" fill="#222" >**</text>
<line x1="287.15" y1="253.23" x2="287.15" y2="253.73" stroke="#0a0a0a" stroke-width="0.7" />
<line x1="285.45" y1="253.23" x2="288.85" y2="253.23" stroke="#0a0a0a" stroke-width="0.7" />
<rect x="275.20" y="251.64" width="6.9" height="45.86" fill="#0a0a0a"/>
<rect x="284.15" y="254.18" width="6.0" height="43.32" fill="#ee0a14" stroke="#0a0a0a" stroke-width="0.9"/>
<line x1="282.90" y1="297.50" x2="282.90" y2="299.90" stroke="#000" stroke-width="0.8" />
<text transform="translate(285.10,304.60) rotate(-45)" font-size="5.2" font-weight="bold" text-anchor="end">48h</text>
<text x="287.15" y="251.53" font-size="6.2" font-weight="normal" text-anchor="middle" fill="#2a2a2a" >ns</text>
<text transform="translate(170.30,262.40) rotate(-90)" font-size="8.4" font-weight="bold" text-anchor="middle" textLength="60.5" lengthAdjust="spacingAndGlyphs">NDV Virus titer</text>
<text x="235.10" y="318.60" font-size="8" font-weight="bold" text-anchor="middle" fill="#000" textLength="36.00" lengthAdjust="spacingAndGlyphs" >Time(hpi)</text>
<rect x="213.8" y="326.3" width="8.4" height="7.1" fill="#0a0a0a"/>
<rect x="214.3" y="335.8" width="7.4" height="6.2" fill="#ee0a14" stroke="#0a0a0a" stroke-width="1.0"/>
<text x="225.90" y="333.10" font-size="7.8" font-weight="normal" text-anchor="start" fill="#111" textLength="14.20" lengthAdjust="spacingAndGlyphs" >DF1</text>
<text x="225.90" y="342.10" font-size="7.8" font-weight="normal" text-anchor="start" fill="#111" textLength="41.00" lengthAdjust="spacingAndGlyphs" >KO IFNAR1</text>
<text x="382.30" y="32.90" font-size="7.0" font-weight="bold" text-anchor="middle" fill="#141414" textLength="9.80" lengthAdjust="spacingAndGlyphs" >DF1</text>
<text x="437.70" y="32.90" font-size="7.0" font-weight="bold" text-anchor="start" fill="#141414" textLength="40.80" lengthAdjust="spacingAndGlyphs" >KO IFNAR1 DF1</text>
<line x1="342.00" y1="35.50" x2="420.80" y2="35.50" stroke="#222" stroke-width="0.9" />
<line x1="421.80" y1="35.50" x2="494.00" y2="35.50" stroke="#222" stroke-width="0.95" />
<text x="308.40" y="43.40" font-size="6.9" font-weight="bold" text-anchor="start" fill="#141414" textLength="30.60" lengthAdjust="spacingAndGlyphs" >DTMUV hpi</text>
<text x="346.80" y="42.80" font-size="5.8" font-weight="bold" text-anchor="middle" fill="#222" textLength="2.73" lengthAdjust="spacingAndGlyphs" stroke="#222" stroke-width="0.2">0</text>
<text x="363.80" y="42.80" font-size="5.8" font-weight="bold" text-anchor="middle" fill="#222" textLength="2.73" lengthAdjust="spacingAndGlyphs" stroke="#222" stroke-width="0.2">8</text>
<text x="378.00" y="42.80" font-size="5.8" font-weight="bold" text-anchor="middle" fill="#222" textLength="5.17" lengthAdjust="spacingAndGlyphs" stroke="#222" stroke-width="0.2">12</text>
<text x="390.30" y="42.80" font-size="5.8" font-weight="bold" text-anchor="middle" fill="#222" textLength="5.17" lengthAdjust="spacingAndGlyphs" stroke="#222" stroke-width="0.2">24</text>
<text x="402.80" y="42.80" font-size="5.8" font-weight="bold" text-anchor="middle" fill="#222" textLength="5.17" lengthAdjust="spacingAndGlyphs" stroke="#222" stroke-width="0.2">36</text>
<text x="425.50" y="42.80" font-size="5.8" font-weight="bold" text-anchor="middle" fill="#222" textLength="2.73" lengthAdjust="spacingAndGlyphs" stroke="#222" stroke-width="0.2">0</text>
<text x="438.20" y="42.80" font-size="5.8" font-weight="bold" text-anchor="middle" fill="#222" textLength="2.73" lengthAdjust="spacingAndGlyphs" stroke="#222" stroke-width="0.2">8</text>
<text x="453.50" y="42.80" font-size="5.8" font-weight="bold" text-anchor="middle" fill="#222" textLength="5.17" lengthAdjust="spacingAndGlyphs" stroke="#222" stroke-width="0.2">12</text>
<text x="469.90" y="42.80" font-size="5.8" font-weight="bold" text-anchor="middle" fill="#222" textLength="5.17" lengthAdjust="spacingAndGlyphs" stroke="#222" stroke-width="0.2">24</text>
<text x="484.70" y="42.80" font-size="5.8" font-weight="bold" text-anchor="middle" fill="#222" textLength="5.17" lengthAdjust="spacingAndGlyphs" stroke="#222" stroke-width="0.2">36</text>
<rect x="340.0" y="47.8" width="153.4" height="15.0" fill="url(#gb1)"/>
<rect x="340.0" y="63.6" width="153.4" height="14.4" fill="url(#ga1)"/>
<ellipse cx="376.60" cy="57.50" rx="7.63" ry="1.59" fill="#050505" opacity="1" filter="url(#b2)"/>
<ellipse cx="389.00" cy="57.30" rx="7.95" ry="1.65" fill="#050505" opacity="1" filter="url(#b2)"/>
<ellipse cx="401.40" cy="56.60" rx="7.21" ry="1.93" fill="#050505" opacity="1" filter="url(#b2)" transform="rotate(-3 401.40 56.60)"/>
<ellipse cx="460.20" cy="55.00" rx="8.16" ry="2.20" fill="#050505" opacity="1" filter="url(#b2)" transform="rotate(-4 460.20 55.00)"/>
<ellipse cx="473.20" cy="53.70" rx="8.69" ry="2.31" fill="#050505" opacity="1" filter="url(#b2)" transform="rotate(-5 473.20 53.70)"/>
<ellipse cx="485.80" cy="52.40" rx="7.95" ry="2.42" fill="#050505" opacity="1" filter="url(#b2)" transform="rotate(-4 485.80 52.40)"/>
<rect x="340.40" y="65.65" width="10.60" height="2.30" rx="1.15" fill="#050505" opacity="1" filter="url(#b4)"/>
<rect x="354.60" y="66.45" width="11.70" height="2.30" rx="1.15" fill="#050505" opacity="0.8" filter="url(#b4)"/>
<rect x="369.20" y="66.45" width="12.60" height="2.30" rx="1.15" fill="#050505" opacity="1" filter="url(#b4)"/>
<rect x="385.20" y="66.85" width="12.30" height="2.30" rx="1.15" fill="#050505" opacity="0.95" filter="url(#b4)"/>
<rect x="401.20" y="67.15" width="12.30" height="2.30" rx="1.15" fill="#050505" opacity="0.95" filter="url(#b4)"/>
<rect x="417.20" y="67.15" width="10.90" height="2.30" rx="1.15" fill="#050505" opacity="0.95" filter="url(#b4)"/>
<rect x="432.50" y="67.85" width="11.60" height="2.30" rx="1.15" fill="#050505" opacity="0.9" filter="url(#b4)"/>
<rect x="448.20" y="68.55" width="11.90" height="2.30" rx="1.15" fill="#050505" opacity="0.95" filter="url(#b4)"/>
<rect x="464.20" y="69.05" width="11.90" height="2.30" rx="1.15" fill="#050505" opacity="1" filter="url(#b4)"/>
<rect x="479.70" y="69.35" width="12.40" height="2.30" rx="1.15" fill="#050505" opacity="1" filter="url(#b4)"/>
<text x="321.50" y="57.60" font-size="6.9" font-weight="bold" text-anchor="start" fill="#141414" textLength="17.80" lengthAdjust="spacingAndGlyphs" >50kd –</text>
<text x="321.50" y="72.20" font-size="6.9" font-weight="bold" text-anchor="start" fill="#141414" textLength="17.80" lengthAdjust="spacingAndGlyphs" >42kd –</text>
<polygon points="495.90,54.15 506.10,52.50 506.10,56.30 495.90,54.65" fill="#0a0a0a"/>
<text x="508.60" y="57.00" font-size="7.0" font-weight="bold" text-anchor="start" fill="#141414" textLength="25.50" lengthAdjust="spacingAndGlyphs" >DTMUV E</text>
<polygon points="497.80,68.85 507.40,67.20 507.40,71.00 497.80,69.35" fill="#0a0a0a"/>
<text x="509.90" y="71.00" font-size="7.0" font-weight="bold" text-anchor="start" fill="#141414" textLength="18.50" lengthAdjust="spacingAndGlyphs" >β-actin</text>
<rect x="340.00" y="81.70" width="204.40" height="17.40" fill="#fff" stroke="#222" stroke-width="0.8"/>
<line x1="354.60" y1="81.70" x2="354.60" y2="99.10" stroke="#222" stroke-width="0.8" />
<line x1="369.50" y1="81.70" x2="369.50" y2="99.10" stroke="#222" stroke-width="0.8" />
<line x1="384.50" y1="81.70" x2="384.50" y2="99.10" stroke="#222" stroke-width="0.8" />
<line x1="400.30" y1="81.70" x2="400.30" y2="99.10" stroke="#222" stroke-width="0.8" />
<line x1="416.40" y1="81.70" x2="416.40" y2="99.10" stroke="#222" stroke-width="0.8" />
<line x1="431.90" y1="81.70" x2="431.90" y2="99.10" stroke="#222" stroke-width="0.8" />
<line x1="447.40" y1="81.70" x2="447.40" y2="99.10" stroke="#222" stroke-width="0.8" />
<line x1="462.60" y1="81.70" x2="462.60" y2="99.10" stroke="#222" stroke-width="0.8" />
<line x1="478.10" y1="81.70" x2="478.10" y2="99.10" stroke="#222" stroke-width="0.8" />
<line x1="494.30" y1="81.70" x2="494.30" y2="99.10" stroke="#222" stroke-width="0.8" />
<text x="347.30" y="89.30" font-size="5.2" font-weight="normal" text-anchor="middle" fill="#3c3c3c" textLength="2.49" lengthAdjust="spacingAndGlyphs" >0</text>
<text x="362.05" y="89.30" font-size="5.2" font-weight="normal" text-anchor="middle" fill="#3c3c3c" textLength="2.49" lengthAdjust="spacingAndGlyphs" >0</text>
<text x="377.00" y="89.30" font-size="5.2" font-weight="normal" text-anchor="middle" fill="#3c3c3c" textLength="8.60" lengthAdjust="spacingAndGlyphs" >1.38</text>
<text x="392.40" y="89.30" font-size="5.2" font-weight="normal" text-anchor="middle" fill="#3c3c3c" textLength="8.60" lengthAdjust="spacingAndGlyphs" >1.58</text>
<text x="408.35" y="89.30" font-size="5.2" font-weight="normal" text-anchor="middle" fill="#3c3c3c" textLength="8.60" lengthAdjust="spacingAndGlyphs" >1.72</text>
<text x="424.15" y="89.30" font-size="5.2" font-weight="normal" text-anchor="middle" fill="#3c3c3c" textLength="2.49" lengthAdjust="spacingAndGlyphs" >0</text>
<text x="439.65" y="89.30" font-size="5.2" font-weight="normal" text-anchor="middle" fill="#3c3c3c" textLength="2.49" lengthAdjust="spacingAndGlyphs" >0</text>
<text x="455.00" y="89.30" font-size="5.2" font-weight="normal" text-anchor="middle" fill="#3c3c3c" textLength="8.60" lengthAdjust="spacingAndGlyphs" >1.55</text>
<text x="455.20" y="95.30" font-size="6.0" font-weight="bold" text-anchor="middle" fill="#2a2a2a" letter-spacing="0.5">*</text>
<text x="470.35" y="89.30" font-size="5.2" font-weight="normal" text-anchor="middle" fill="#3c3c3c" textLength="8.60" lengthAdjust="spacingAndGlyphs" >1.90</text>
<text x="470.55" y="95.30" font-size="6.0" font-weight="bold" text-anchor="middle" fill="#2a2a2a" letter-spacing="0.5">**</text>
<text x="486.20" y="89.30" font-size="5.2" font-weight="normal" text-anchor="middle" fill="#3c3c3c" textLength="8.60" lengthAdjust="spacingAndGlyphs" >1.98</text>
<text x="486.40" y="95.30" font-size="6.0" font-weight="bold" text-anchor="middle" fill="#2a2a2a" letter-spacing="0.5">**</text>
<text x="498.40" y="89.00" font-size="5.8" font-weight="bold" text-anchor="start" fill="#141414" textLength="41.80" lengthAdjust="spacingAndGlyphs" >DTMUV E/β-actin</text>
<text x="437.90" y="107.70" font-size="5.6" font-weight="normal" text-anchor="start" fill="#3a3a3a" textLength="21.10" lengthAdjust="spacingAndGlyphs" >*p &lt; 0.05</text>
<text x="472.60" y="107.70" font-size="5.6" font-weight="normal" text-anchor="start" fill="#3a3a3a" textLength="23.80" lengthAdjust="spacingAndGlyphs" >**p &lt; 0.01</text>
<text x="372.80" y="122.90" font-size="7.0" font-weight="bold" text-anchor="middle" fill="#141414" textLength="9.80" lengthAdjust="spacingAndGlyphs" >DF1</text>
<text x="434.20" y="122.90" font-size="7.0" font-weight="bold" text-anchor="start" fill="#141414" textLength="43.80" lengthAdjust="spacingAndGlyphs" >KO IFNAR1 DF1</text>
<line x1="329.60" y1="126.40" x2="416.80" y2="126.40" stroke="#222" stroke-width="0.9" />
<line x1="417.80" y1="126.40" x2="495.20" y2="126.40" stroke="#222" stroke-width="0.95" />
<text x="305.90" y="135.00" font-size="6.9" font-weight="bold" text-anchor="start" fill="#141414" textLength="20.80" lengthAdjust="spacingAndGlyphs" >IBV hpi</text>
<text x="337.80" y="134.80" font-size="6.8" font-weight="bold" text-anchor="middle" fill="#222" textLength="3.20" lengthAdjust="spacingAndGlyphs" stroke="#222" stroke-width="0.2">0</text>
<text x="354.80" y="134.80" font-size="6.8" font-weight="bold" text-anchor="middle" fill="#222" textLength="3.20" lengthAdjust="spacingAndGlyphs" stroke="#222" stroke-width="0.2">8</text>
<text x="370.20" y="134.80" font-size="6.8" font-weight="bold" text-anchor="middle" fill="#222" textLength="6.06" lengthAdjust="spacingAndGlyphs" stroke="#222" stroke-width="0.2">12</text>
<text x="388.00" y="134.80" font-size="6.8" font-weight="bold" text-anchor="middle" fill="#222" textLength="6.06" lengthAdjust="spacingAndGlyphs" stroke="#222" stroke-width="0.2">24</text>
<text x="404.00" y="134.80" font-size="6.8" font-weight="bold" text-anchor="middle" fill="#222" textLength="6.06" lengthAdjust="spacingAndGlyphs" stroke="#222" stroke-width="0.2">36</text>
<text x="422.40" y="134.80" font-size="6.8" font-weight="bold" text-anchor="middle" fill="#222" textLength="3.20" lengthAdjust="spacingAndGlyphs" stroke="#222" stroke-width="0.2">0</text>
<text x="438.40" y="134.80" font-size="6.8" font-weight="bold" text-anchor="middle" fill="#222" textLength="3.20" lengthAdjust="spacingAndGlyphs" stroke="#222" stroke-width="0.2">8</text>
<text x="456.00" y="134.80" font-size="6.8" font-weight="bold" text-anchor="middle" fill="#222" textLength="6.06" lengthAdjust="spacingAndGlyphs" stroke="#222" stroke-width="0.2">12</text>
<text x="470.80" y="134.80" font-size="6.8" font-weight="bold" text-anchor="middle" fill="#222" textLength="6.06" lengthAdjust="spacingAndGlyphs" stroke="#222" stroke-width="0.2">24</text>
<text x="487.80" y="134.80" font-size="6.8" font-weight="bold" text-anchor="middle" fill="#222" textLength="6.06" lengthAdjust="spacingAndGlyphs" stroke="#222" stroke-width="0.2">36</text>
<rect x="329.1" y="137.5" width="167.3" height="16.1" fill="url(#gb2)"/>
<rect x="329.1" y="154.5" width="167.3" height="16.3" fill="url(#ga2)"/>
<rect x="399.80" y="147.95" width="10.00" height="4.50" rx="2.25" fill="#050505" opacity="0.28" filter="url(#b3)"/>
<rect x="348.70" y="145.80" width="11.50" height="4.80" rx="2.40" fill="#050505" opacity="1" filter="url(#b1)"/>
<rect x="364.30" y="145.00" width="12.30" height="4.80" rx="2.40" fill="#050505" opacity="1" filter="url(#b1)"/>
<rect x="381.50" y="143.90" width="14.70" height="4.80" rx="2.40" fill="#050505" opacity="1" filter="url(#b1)"/>
<rect x="398.30" y="142.90" width="13.10" height="5.20" rx="2.60" fill="#050505" opacity="1" filter="url(#b1)"/>
<rect x="432.60" y="142.90" width="13.70" height="5.20" rx="2.60" fill="#050505" opacity="1" filter="url(#b1)"/>
<rect x="450.10" y="141.80" width="12.30" height="6.40" rx="3.20" fill="#050505" opacity="1" filter="url(#b1)"/>
<rect x="464.80" y="141.05" width="14.80" height="7.10" rx="3.55" fill="#050505" opacity="1" filter="url(#b1)"/>
<rect x="481.50" y="141.05" width="13.30" height="7.10" rx="3.55" fill="#050505" opacity="1" filter="url(#b1)"/>
<rect x="332.40" y="159.80" width="12.20" height="2.40" rx="1.20" fill="#050505" opacity="0.7" filter="url(#b4)"/>
<rect x="349.20" y="159.90" width="11.80" height="2.60" rx="1.30" fill="#050505" opacity="0.75" filter="url(#b4)"/>
<rect x="365.60" y="159.90" width="11.40" height="2.60" rx="1.30" fill="#050505" opacity="0.8" filter="url(#b4)"/>
<rect x="382.30" y="160.55" width="10.70" height="2.50" rx="1.25" fill="#050505" opacity="0.95" filter="url(#b4)"/>
<rect x="398.30" y="161.15" width="11.00" height="2.10" rx="1.05" fill="#050505" opacity="1" filter="url(#b4)"/>
<rect x="414.60" y="161.05" width="11.80" height="2.30" rx="1.15" fill="#050505" opacity="0.9" filter="url(#b4)"/>
<rect x="431.30" y="161.40" width="11.40" height="2.40" rx="1.20" fill="#050505" opacity="0.95" filter="url(#b4)"/>
<rect x="448.00" y="161.80" width="11.10" height="2.60" rx="1.30" fill="#050505" opacity="0.9" filter="url(#b4)"/>
<rect x="464.00" y="161.80" width="12.30" height="2.60" rx="1.30" fill="#050505" opacity="0.9" filter="url(#b4)"/>
<rect x="480.70" y="161.80" width="12.00" height="2.60" rx="1.30" fill="#050505" opacity="0.9" filter="url(#b4)"/>
<ellipse cx="329.7" cy="166.4" rx="0.9" ry="2.0" fill="#111" filter="url(#b2)"/>
<text x="307.80" y="147.40" font-size="7.2" font-weight="bold" text-anchor="start" fill="#141414" textLength="20.30" lengthAdjust="spacingAndGlyphs" >55kd –</text>
<text x="307.80" y="165.00" font-size="7.2" font-weight="bold" text-anchor="start" fill="#141414" textLength="20.30" lengthAdjust="spacingAndGlyphs" >42kd –</text>
<polygon points="498.60,143.95 509.80,142.00 509.80,146.40 498.60,144.45" fill="#0a0a0a"/>
<text x="512.20" y="147.00" font-size="7.0" font-weight="bold" text-anchor="start" fill="#141414" textLength="16.10" lengthAdjust="spacingAndGlyphs" >IBV N</text>
<polygon points="500.40,162.55 511.00,160.70 511.00,164.90 500.40,163.05" fill="#0a0a0a"/>
<text x="514.00" y="165.00" font-size="7.0" font-weight="bold" text-anchor="start" fill="#141414" textLength="20.70" lengthAdjust="spacingAndGlyphs" >β-actin</text>
<rect x="329.40" y="172.50" width="214.80" height="19.60" fill="#fff" stroke="#222" stroke-width="0.8"/>
<line x1="346.20" y1="172.50" x2="346.20" y2="192.10" stroke="#222" stroke-width="0.8" />
<line x1="362.60" y1="172.50" x2="362.60" y2="192.10" stroke="#222" stroke-width="0.8" />
<line x1="379.80" y1="172.50" x2="379.80" y2="192.10" stroke="#222" stroke-width="0.8" />
<line x1="397.20" y1="172.50" x2="397.20" y2="192.10" stroke="#222" stroke-width="0.8" />
<line x1="413.80" y1="172.50" x2="413.80" y2="192.10" stroke="#222" stroke-width="0.8" />
<line x1="429.80" y1="172.50" x2="429.80" y2="192.10" stroke="#222" stroke-width="0.8" />
<line x1="447.40" y1="172.50" x2="447.40" y2="192.10" stroke="#222" stroke-width="0.8" />
<line x1="464.50" y1="172.50" x2="464.50" y2="192.10" stroke="#222" stroke-width="0.8" />
<line x1="481.40" y1="172.50" x2="481.40" y2="192.10" stroke="#222" stroke-width="0.8" />
<line x1="496.60" y1="172.50" x2="496.60" y2="192.10" stroke="#222" stroke-width="0.8" />
<text x="337.80" y="180.60" font-size="5.9" font-weight="normal" text-anchor="middle" fill="#3c3c3c" textLength="2.75" lengthAdjust="spacingAndGlyphs" >0</text>
<text x="354.40" y="180.60" font-size="5.9" font-weight="normal" text-anchor="middle" fill="#3c3c3c" textLength="9.50" lengthAdjust="spacingAndGlyphs" >1.56</text>
<text x="371.20" y="180.60" font-size="5.9" font-weight="normal" text-anchor="middle" fill="#3c3c3c" textLength="9.50" lengthAdjust="spacingAndGlyphs" >1.48</text>
<text x="388.50" y="180.60" font-size="5.9" font-weight="normal" text-anchor="middle" fill="#3c3c3c" textLength="9.50" lengthAdjust="spacingAndGlyphs" >2.68</text>
<text x="405.50" y="180.60" font-size="5.9" font-weight="normal" text-anchor="middle" fill="#3c3c3c" textLength="9.50" lengthAdjust="spacingAndGlyphs" >2.03</text>
<text x="421.80" y="180.60" font-size="5.9" font-weight="normal" text-anchor="middle" fill="#3c3c3c" textLength="2.75" lengthAdjust="spacingAndGlyphs" >0</text>
<text x="438.60" y="180.60" font-size="5.9" font-weight="normal" text-anchor="middle" fill="#3c3c3c" textLength="9.50" lengthAdjust="spacingAndGlyphs" >2.73</text>
<text x="438.80" y="188.40" font-size="6.0" font-weight="bold" text-anchor="middle" fill="#2a2a2a" letter-spacing="0.5">**</text>
<text x="455.95" y="180.60" font-size="5.9" font-weight="normal" text-anchor="middle" fill="#3c3c3c" textLength="9.50" lengthAdjust="spacingAndGlyphs" >2.21</text>
<text x="456.15" y="188.40" font-size="6.0" font-weight="bold" text-anchor="middle" fill="#2a2a2a" letter-spacing="0.5">**</text>
<text x="472.95" y="180.60" font-size="5.9" font-weight="normal" text-anchor="middle" fill="#3c3c3c" textLength="9.50" lengthAdjust="spacingAndGlyphs" >3.15</text>
<text x="473.15" y="188.40" font-size="6.0" font-weight="bold" text-anchor="middle" fill="#2a2a2a" letter-spacing="0.5">**</text>
<text x="489.00" y="180.60" font-size="5.9" font-weight="normal" text-anchor="middle" fill="#3c3c3c" textLength="9.50" lengthAdjust="spacingAndGlyphs" >2.84</text>
<text x="489.20" y="188.40" font-size="6.0" font-weight="bold" text-anchor="middle" fill="#2a2a2a" letter-spacing="0.5">**</text>
<text x="503.20" y="181.40" font-size="6.6" font-weight="bold" text-anchor="start" fill="#141414" textLength="34.70" lengthAdjust="spacingAndGlyphs" >IBV N/β-actin</text>
<text x="437.00" y="201.60" font-size="6.1" font-weight="normal" text-anchor="start" fill="#3a3a3a" textLength="22.90" lengthAdjust="spacingAndGlyphs" >*p &lt; 0.05</text>
<text x="475.20" y="201.60" font-size="6.1" font-weight="normal" text-anchor="start" fill="#3a3a3a" textLength="25.40" lengthAdjust="spacingAndGlyphs" >**p &lt; 0.01</text>
<text x="376.40" y="229.00" font-size="7.0" font-weight="bold" text-anchor="middle" fill="#141414" textLength="9.80" lengthAdjust="spacingAndGlyphs" >DF1</text>
<text x="430.60" y="229.00" font-size="7.0" font-weight="bold" text-anchor="start" fill="#141414" textLength="42.60" lengthAdjust="spacingAndGlyphs" >KO IFNAR1 DF1</text>
<line x1="334.90" y1="232.00" x2="417.20" y2="232.00" stroke="#222" stroke-width="0.9" />
<line x1="418.20" y1="232.00" x2="491.00" y2="232.00" stroke="#222" stroke-width="0.95" />
<text x="309.70" y="240.20" font-size="6.9" font-weight="bold" text-anchor="start" fill="#141414" textLength="22.20" lengthAdjust="spacingAndGlyphs" >NDV hpi</text>
<text x="341.40" y="241.20" font-size="6.4" font-weight="bold" text-anchor="middle" fill="#222" textLength="3.01" lengthAdjust="spacingAndGlyphs" stroke="#222" stroke-width="0.2">0</text>
<text x="356.30" y="241.20" font-size="6.4" font-weight="bold" text-anchor="middle" fill="#222" textLength="3.01" lengthAdjust="spacingAndGlyphs" stroke="#222" stroke-width="0.2">8</text>
<text x="374.50" y="241.20" font-size="6.4" font-weight="bold" text-anchor="middle" fill="#222" textLength="5.70" lengthAdjust="spacingAndGlyphs" stroke="#222" stroke-width="0.2">12</text>
<text x="389.80" y="241.20" font-size="6.4" font-weight="bold" text-anchor="middle" fill="#222" textLength="5.70" lengthAdjust="spacingAndGlyphs" stroke="#222" stroke-width="0.2">24</text>
<text x="406.40" y="241.20" font-size="6.4" font-weight="bold" text-anchor="middle" fill="#222" textLength="5.70" lengthAdjust="spacingAndGlyphs" stroke="#222" stroke-width="0.2">36</text>
<text x="421.00" y="241.20" font-size="6.4" font-weight="bold" text-anchor="middle" fill="#222" textLength="3.01" lengthAdjust="spacingAndGlyphs" stroke="#222" stroke-width="0.2">0</text>
<text x="433.50" y="241.20" font-size="6.4" font-weight="bold" text-anchor="middle" fill="#222" textLength="3.01" lengthAdjust="spacingAndGlyphs" stroke="#222" stroke-width="0.2">8</text>
<text x="450.00" y="241.20" font-size="6.4" font-weight="bold" text-anchor="middle" fill="#222" textLength="5.70" lengthAdjust="spacingAndGlyphs" stroke="#222" stroke-width="0.2">12</text>
<text x="466.00" y="241.20" font-size="6.4" font-weight="bold" text-anchor="middle" fill="#222" textLength="5.70" lengthAdjust="spacingAndGlyphs" stroke="#222" stroke-width="0.2">24</text>
<text x="482.60" y="241.20" font-size="6.4" font-weight="bold" text-anchor="middle" fill="#222" textLength="5.70" lengthAdjust="spacingAndGlyphs" stroke="#222" stroke-width="0.2">36</text>
<rect x="334.6" y="244.1" width="158.1" height="16.5" fill="url(#gb3)"/>
<rect x="334.6" y="262.4" width="158.1" height="17.4" fill="url(#ga2)"/>
<rect x="334.6" y="254.4" width="1.2" height="5.2" fill="#e8799a" opacity="0.8"/>
<rect x="370.20" y="248.95" width="10.00" height="4.50" rx="2.25" fill="#050505" opacity="0.22" filter="url(#b3)"/>
<rect x="433.40" y="251" width="12.40" height="9.6" fill="#707070" opacity="0.8" filter="url(#b3)"/>
<rect x="449.50" y="251" width="11.60" height="9.6" fill="#707070" opacity="0.8" filter="url(#b3)"/>
<rect x="464.80" y="251" width="12.60" height="9.6" fill="#707070" opacity="0.8" filter="url(#b3)"/>
<rect x="480.50" y="251" width="10.80" height="9.6" fill="#707070" opacity="0.8" filter="url(#b3)"/>
<rect x="353.70" y="252.90" width="13.10" height="4.20" rx="2.10" fill="#050505" opacity="1" filter="url(#b1)"/>
<rect x="369.80" y="253.00" width="10.90" height="4.40" rx="2.20" fill="#050505" opacity="0.85" filter="url(#b1)"/>
<rect x="384.80" y="251.80" width="12.30" height="4.20" rx="2.10" fill="#050505" opacity="1" filter="url(#b1)"/>
<rect x="398.70" y="250.40" width="13.10" height="4.80" rx="2.40" fill="#050505" opacity="1" filter="url(#b1)"/>
<rect x="432.90" y="247.20" width="13.40" height="6.80" rx="3.40" fill="#050505" opacity="1" filter="url(#b1)"/>
<rect x="449.00" y="247.20" width="12.60" height="6.80" rx="3.40" fill="#050505" opacity="1" filter="url(#b1)"/>
<rect x="464.30" y="246.45" width="13.60" height="7.30" rx="3.65" fill="#050505" opacity="1" filter="url(#b1)"/>
<rect x="480.00" y="246.45" width="11.80" height="7.30" rx="3.65" fill="#050505" opacity="1" filter="url(#b1)"/>
<rect x="335.70" y="266.95" width="12.00" height="2.50" rx="1.25" fill="#050505" opacity="0.95" filter="url(#b4)"/>
<rect x="351.30" y="267.60" width="11.40" height="3.00" rx="1.50" fill="#050505" opacity="0.95" filter="url(#b4)"/>
<rect x="366.30" y="268.20" width="12.00" height="2.60" rx="1.30" fill="#050505" opacity="0.95" filter="url(#b4)"/>
<rect x="382.00" y="268.50" width="11.80" height="2.60" rx="1.30" fill="#050505" opacity="0.95" filter="url(#b4)"/>
<rect x="397.90" y="269.00" width="12.30" height="2.60" rx="1.30" fill="#050505" opacity="0.95" filter="url(#b4)"/>
<rect x="413.80" y="269.50" width="12.60" height="2.40" rx="1.20" fill="#050505" opacity="0.95" filter="url(#b4)"/>
<rect x="430.50" y="269.50" width="11.40" height="2.60" rx="1.30" fill="#050505" opacity="0.95" filter="url(#b4)"/>
<rect x="446.00" y="269.45" width="12.80" height="2.70" rx="1.35" fill="#050505" opacity="0.95" filter="url(#b4)"/>
<rect x="462.40" y="269.25" width="13.10" height="2.70" rx="1.35" fill="#050505" opacity="0.95" filter="url(#b4)"/>
<rect x="478.70" y="268.95" width="12.30" height="2.70" rx="1.35" fill="#050505" opacity="0.95" filter="url(#b4)"/>
<text x="314.90" y="255.80" font-size="7.5" font-weight="bold" text-anchor="start" fill="#141414" textLength="19.00" lengthAdjust="spacingAndGlyphs" >73kd –</text>
<text x="314.90" y="273.50" font-size="7.5" font-weight="bold" text-anchor="start" fill="#141414" textLength="19.00" lengthAdjust="spacingAndGlyphs" >42kd –</text>
<polygon points="494.40,252.05 504.90,250.00 504.90,254.60 494.40,252.55" fill="#0a0a0a"/>
<text x="507.10" y="254.90" font-size="7.8" font-weight="bold" text-anchor="start" fill="#141414" textLength="23.20" lengthAdjust="spacingAndGlyphs" >NDV HN</text>
<polygon points="496.20,268.85 506.60,266.80 506.60,271.40 496.20,269.35" fill="#0a0a0a"/>
<text x="508.10" y="271.60" font-size="7.6" font-weight="bold" text-anchor="start" fill="#141414" textLength="19.90" lengthAdjust="spacingAndGlyphs" >β-actin</text>
<rect x="334.80" y="280.00" width="205.30" height="19.10" fill="#fff" stroke="#222" stroke-width="0.8"/>
<line x1="350.90" y1="280.00" x2="350.90" y2="299.10" stroke="#222" stroke-width="0.8" />
<line x1="366.90" y1="280.00" x2="366.90" y2="299.10" stroke="#222" stroke-width="0.8" />
<line x1="382.20" y1="280.00" x2="382.20" y2="299.10" stroke="#222" stroke-width="0.8" />
<line x1="398.00" y1="280.00" x2="398.00" y2="299.10" stroke="#222" stroke-width="0.8" />
<line x1="414.60" y1="280.00" x2="414.60" y2="299.10" stroke="#222" stroke-width="0.8" />
<line x1="430.40" y1="280.00" x2="430.40" y2="299.10" stroke="#222" stroke-width="0.8" />
<line x1="447.00" y1="280.00" x2="447.00" y2="299.10" stroke="#222" stroke-width="0.8" />
<line x1="463.50" y1="280.00" x2="463.50" y2="299.10" stroke="#222" stroke-width="0.8" />
<line x1="479.80" y1="280.00" x2="479.80" y2="299.10" stroke="#222" stroke-width="0.8" />
<line x1="495.50" y1="280.00" x2="495.50" y2="299.10" stroke="#222" stroke-width="0.8" />
<text x="342.85" y="288.00" font-size="5.9" font-weight="normal" text-anchor="middle" fill="#3c3c3c" textLength="2.75" lengthAdjust="spacingAndGlyphs" >0</text>
<text x="358.90" y="288.00" font-size="5.9" font-weight="normal" text-anchor="middle" fill="#3c3c3c" textLength="9.50" lengthAdjust="spacingAndGlyphs" >1.28</text>
<text x="374.55" y="288.00" font-size="5.9" font-weight="normal" text-anchor="middle" fill="#3c3c3c" textLength="9.50" lengthAdjust="spacingAndGlyphs" >1.35</text>
<text x="390.10" y="288.00" font-size="5.9" font-weight="normal" text-anchor="middle" fill="#3c3c3c" textLength="9.50" lengthAdjust="spacingAndGlyphs" >1.66</text>
<text x="406.30" y="288.00" font-size="5.9" font-weight="normal" text-anchor="middle" fill="#3c3c3c" textLength="9.50" lengthAdjust="spacingAndGlyphs" >1.79</text>
<text x="422.50" y="288.00" font-size="5.9" font-weight="normal" text-anchor="middle" fill="#3c3c3c" textLength="2.75" lengthAdjust="spacingAndGlyphs" >0</text>
<text x="438.70" y="288.00" font-size="5.9" font-weight="normal" text-anchor="middle" fill="#3c3c3c" textLength="9.50" lengthAdjust="spacingAndGlyphs" >1.69</text>
<text x="438.90" y="295.40" font-size="6.0" font-weight="bold" text-anchor="middle" fill="#2a2a2a" letter-spacing="0.5">*</text>
<text x="455.25" y="288.00" font-size="5.9" font-weight="normal" text-anchor="middle" fill="#3c3c3c" textLength="9.50" lengthAdjust="spacingAndGlyphs" >1.89</text>
<text x="455.45" y="295.40" font-size="6.0" font-weight="bold" text-anchor="middle" fill="#2a2a2a" letter-spacing="0.5">**</text>
<text x="471.65" y="288.00" font-size="5.9" font-weight="normal" text-anchor="middle" fill="#3c3c3c" textLength="9.50" lengthAdjust="spacingAndGlyphs" >2.32</text>
<text x="471.85" y="295.40" font-size="6.0" font-weight="bold" text-anchor="middle" fill="#2a2a2a" letter-spacing="0.5">**</text>
<text x="487.65" y="288.00" font-size="5.9" font-weight="normal" text-anchor="middle" fill="#3c3c3c" textLength="9.50" lengthAdjust="spacingAndGlyphs" >2.04</text>
<text x="487.85" y="295.40" font-size="6.0" font-weight="bold" text-anchor="middle" fill="#2a2a2a" letter-spacing="0.5">**</text>
<text x="497.80" y="288.80" font-size="6.6" font-weight="bold" text-anchor="start" fill="#141414" textLength="40.10" lengthAdjust="spacingAndGlyphs" >NDV HN/β-actin</text>
<text x="436.10" y="309.70" font-size="5.9" font-weight="normal" text-anchor="start" fill="#3a3a3a" textLength="21.30" lengthAdjust="spacingAndGlyphs" >*p &lt; 0.05</text>
<text x="472.00" y="309.70" font-size="5.9" font-weight="normal" text-anchor="start" fill="#3a3a3a" textLength="24.20" lengthAdjust="spacingAndGlyphs" >**p &lt; 0.01</text>
</svg>
</body></html>
